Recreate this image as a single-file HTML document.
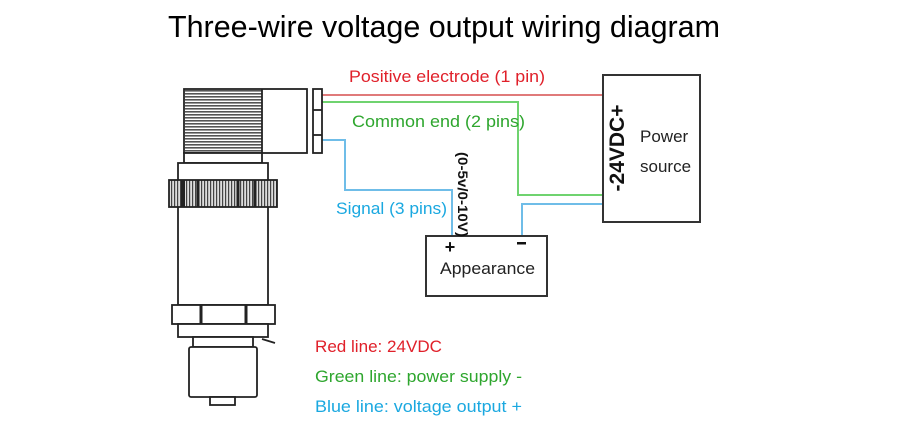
<!DOCTYPE html>
<html><head><style>
html,body{margin:0;padding:0;background:#fff;}
svg{display:block;}
text{font-family:"Liberation Sans",sans-serif;}
</style></head><body>
<svg width="917" height="438" viewBox="0 0 917 438" xmlns="http://www.w3.org/2000/svg">
<defs>
<pattern id="rib" width="4" height="3" patternUnits="userSpaceOnUse"><rect width="4" height="3" fill="#fff"/><rect width="4" height="1.6" fill="#555"/></pattern>
<pattern id="knurl" width="3" height="4" patternUnits="userSpaceOnUse"><rect width="3" height="4" fill="#ddd"/><rect width="1.2" height="4" fill="#444"/></pattern>
</defs>
<rect width="917" height="438" fill="#fff"/>
<text x="168" y="37" font-size="31" textLength="552" lengthAdjust="spacingAndGlyphs" fill="#000">Three-wire voltage output wiring diagram</text>

<g fill="none" stroke-width="2">
<polyline points="322,95 603,95" stroke="#e07a7a"/>
<polyline points="322,102 518,102 518,195 603,195" stroke="#6fd36f"/>
<polyline points="322,140 345,140 345,190 452,190 452,237" stroke="#6fbde8"/>
<polyline points="603,204 522,204 522,237" stroke="#6fbde8"/>
</g>

<g stroke="#222" stroke-width="1.8" fill="#fff">
<rect x="184" y="89" width="123" height="64"/>
<rect x="185" y="90" width="77" height="62" fill="url(#rib)" stroke="none"/>
<line x1="262" y1="89" x2="262" y2="153"/>
<rect x="313" y="89" width="9" height="64"/>
<line x1="313" y1="110" x2="322" y2="110"/><line x1="313" y1="135" x2="322" y2="135"/>
<rect x="184" y="153" width="78" height="10"/>
<rect x="178" y="163" width="90" height="142"/>
<rect x="169" y="180" width="108" height="27" fill="url(#knurl)"/>
<line x1="183" y1="180" x2="183" y2="207" stroke-width="4"/>
<line x1="238" y1="180" x2="238" y2="207" stroke-width="3"/>
<line x1="255" y1="180" x2="255" y2="207" stroke-width="3"/>
<line x1="198" y1="180" x2="198" y2="207" stroke-width="3"/>
<rect x="172" y="305" width="103" height="19"/>
<line x1="201" y1="305" x2="201" y2="324" stroke-width="3"/>
<line x1="246" y1="305" x2="246" y2="324" stroke-width="3"/>
<rect x="178" y="324" width="90" height="13"/>
<rect x="193" y="337" width="60" height="10"/>
<rect x="189" y="347" width="68" height="50" rx="2"/>
<rect x="210" y="397" width="25" height="8"/>
<line x1="262" y1="339" x2="275" y2="343"/>
</g>

<rect x="603" y="75" width="97" height="147" fill="#fff" stroke="#333" stroke-width="2"/>
<text transform="translate(624,148) rotate(-90)" text-anchor="middle" font-size="21" font-weight="bold" fill="#111">-24VDC+</text>
<text x="640" y="142" font-size="17" fill="#222">Power</text>
<text x="640" y="172" font-size="17" fill="#222">source</text>

<rect x="426" y="236" width="121" height="60" fill="#fff" stroke="#333" stroke-width="2"/>
<text x="440" y="274" font-size="17" textLength="95" lengthAdjust="spacingAndGlyphs" fill="#222">Appearance</text>
<text x="450" y="253" text-anchor="middle" font-size="18" font-weight="bold" fill="#111">+</text>
<rect x="517" y="242" width="9" height="2.5" fill="#111"/>
<text transform="translate(458,152) rotate(90)" font-size="14" font-weight="bold" textLength="85" lengthAdjust="spacingAndGlyphs" fill="#111">(0-5v/0-10V)</text>

<text x="349" y="82" font-size="17" textLength="196" lengthAdjust="spacingAndGlyphs" fill="#e0202a">Positive electrode (1 pin)</text>
<text x="352" y="127" font-size="17" textLength="173" lengthAdjust="spacingAndGlyphs" fill="#2ea62e">Common end (2 pins)</text>
<text x="336" y="214" font-size="17" textLength="111" lengthAdjust="spacingAndGlyphs" fill="#1aa8e0">Signal (3 pins)</text>

<text x="315" y="352" font-size="17" textLength="127" lengthAdjust="spacingAndGlyphs" fill="#e0202a">Red line: 24VDC</text>
<text x="315" y="382" font-size="17" textLength="207" lengthAdjust="spacingAndGlyphs" fill="#2ea62e">Green line: power supply -</text>
<text x="315" y="412" font-size="17" textLength="207" lengthAdjust="spacingAndGlyphs" fill="#1aa8e0">Blue line: voltage output +</text>
</svg>
</body></html>
